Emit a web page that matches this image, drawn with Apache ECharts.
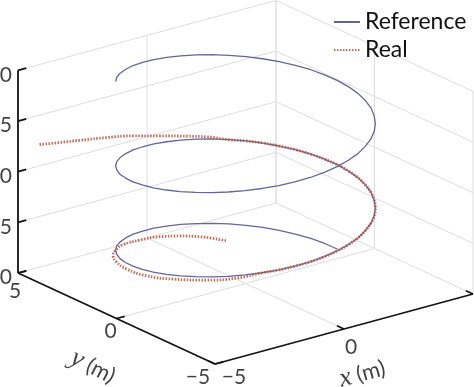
<!DOCTYPE html>
<html><head><meta charset="utf-8">
<style>html,body{margin:0;padding:0;background:#fff}#c{width:474px;height:387px}</style>
<script src="https://cdn.jsdelivr.net/npm/echarts@6/dist/echarts.min.js"></script>
</head><body><div id="c"></div>
<script>
// Data (metres)
const refX=[3.97,3.86,3.70,3.46,3.17,2.83,2.44,2,1.53,1.04,.52,0,-.52,-1.04,-1.53,-2,-2.44,-2.83,-3.17,-3.46,-3.70,-3.86,-3.97,-4,-3.97,-3.86,-3.70,-3.46,-3.17,-2.83,-2.44,-2,-1.53,-1.04,-.52,0,.52,1.04,1.53,2,2.44,2.83,3.17,3.46,3.70,3.86,3.97,
 4,3.97,3.86,3.70,3.46,3.17,2.83,2.44,2,1.53,1.04,.52,0,-.52,-1.04,-1.53,-2,-2.44,-2.83,-3.17,-3.46,-3.70,-3.86,-3.97,-4,-3.97,-3.86,-3.70,-3.46,-3.17,-2.83,-2.44,-2,-1.53,-1.04,-.52,0,.52,1.04,1.53,2,2.44,2.83,3.17,3.46,3.70,3.86,3.97,
 4,3.97,3.86,3.70,3.46,3.17,2.83,2.44,2,1.53,1.04,.52,0,-.52,-1.04,-1.53,-2,-2.44,-2.83,-3.17];
const refY=[.52,1.04,1.53,2,2.44,2.83,3.17,3.46,3.70,3.86,3.97,4,3.97,3.86,3.70,3.46,3.17,2.83,2.44,2,1.53,1.04,.52,0,-.52,-1.04,-1.53,-2,-2.44,-2.83,-3.17,-3.46,-3.70,-3.86,-3.97,-4,-3.97,-3.86,-3.70,-3.46,-3.17,-2.83,-2.44,-2,-1.53,-1.04,-.52,
 0,.52,1.04,1.53,2,2.44,2.83,3.17,3.46,3.70,3.86,3.97,4,3.97,3.86,3.70,3.46,3.17,2.83,2.44,2,1.53,1.04,.52,0,-.52,-1.04,-1.53,-2,-2.44,-2.83,-3.17,-3.46,-3.70,-3.86,-3.97,-4,-3.97,-3.86,-3.70,-3.46,-3.17,-2.83,-2.44,-2,-1.53,-1.04,-.52,
 0,.52,1.04,1.53,2,2.44,2.83,3.17,3.46,3.70,3.86,3.97,4,3.97,3.86,3.70,3.46,3.17,2.83,2.44];
const refZ=[.17,.35,.52,.69,.87,1.04,1.21,1.39,1.56,1.73,1.91,2.08,2.25,2.43,2.6,2.77,2.95,3.12,3.29,3.47,3.64,3.81,3.99,4.16,4.34,4.51,4.68,4.86,5.03,5.2,5.38,5.55,5.72,5.9,6.07,6.24,6.42,6.59,6.76,6.94,7.11,7.28,7.46,7.63,7.8,7.98,8.15,
 8.32,8.5,8.67,8.84,9.02,9.19,9.37,9.54,9.71,9.89,10.06,10.23,10.4,10.58,10.75,10.92,11.1,11.27,11.45,11.62,11.79,11.97,12.14,12.31,12.49,12.66,12.83,13.01,13.18,13.35,13.53,13.7,13.87,14.05,14.22,14.39,14.57,14.74,14.91,15.09,15.26,15.43,15.61,15.78,15.95,16.13,16.3,16.47,
 16.65,16.82,16.99,17.17,17.34,17.51,17.69,17.86,18.03,18.21,18.38,18.55,18.73,18.9,19.08,19.25,19.42,19.6,19.77,19.94];

const realX=[1.57,.93,.27,-.47,-1.35,-2.23,-2.95,-3.48,-3.94,-4.28,-4.36,-4.05,-3.49,-2.87,
 -2,-1.53,-1.04,-.52,0,.52,1.04,1.53,2,2.44,2.83,3.17,3.46,3.70,3.86,3.97,4,3.97,3.86,3.70,3.46,3.17,2.83,2.44,2,
 1.46,.85,.04,-.78,-1.66,-2.68,-3.45,-4.19];
const realY=[3.05,3.53,3.68,3.72,3.59,3.3,2.75,2.16,1.38,.42,-.7,-1.63,-2.62,-3.32,
 -3.46,-3.70,-3.86,-3.97,-4,-3.97,-3.86,-3.70,-3.46,-3.17,-2.83,-2.44,-2,-1.53,-1.04,-.52,0,.52,1.04,1.53,2,2.44,2.83,3.17,3.46,
 3.86,4.07,4.39,4.69,4.85,4.89,4.9,4.97];
const realZ=[.4,.8,1.2,1.6,2,2.4,2.8,3.2,3.6,4,4.4,4.7,5.1,5.5,
 5.55,5.72,5.9,6.07,6.24,6.42,6.59,6.76,6.94,7.11,7.28,7.46,7.63,7.8,7.98,8.15,8.32,8.5,8.67,8.84,9.02,9.19,9.37,9.54,9.71,
 10,10.3,10.6,10.9,11.2,11.6,11.9,12.15];

const xTicks=[-5,0,5];
const yTicks=[-5,0,5];
const zTicks=[0,5,10,15,20];
const xTickLabels=['−5','0'];
const yTickLabels=['−5','0','5'];
const zTickLabels=['0','5','10','15','20'];
const seriesNames=['Reference','Real'];

// Linear 3D → 2D projection of the box
const O=[245.5,283.5], EX=[25.8,-7], EY=[-19.7,-9.1], EZ=[0,-10.13];
const proj=(x,y,z)=>[O[0]+x*EX[0]+y*EY[0]+z*EZ[0], O[1]+x*EX[1]+y*EY[1]+z*EZ[1]];

const FONT='Lato';
const TXT='#111';
const series=[];
function seg(a,b,color,width,z){
  series.push({type:'line',silent:true,symbol:'none',z:z,animation:false,
    data:[proj(...a),proj(...b)],lineStyle:{color:color,width:width}});
}
const G='#dedee2';
const X0=-5,X1=5,Y0=-5,Y1=5,Z0=0,Z1=20;
zTicks.forEach(z=>{ seg([X0,Y1,z],[X1,Y1,z],G,1,1); seg([X1,Y1,z],[X1,Y0,z],G,1,1); });
xTicks.forEach(x=>seg([x,Y1,Z0],[x,Y1,Z1],G,1,1));
yTicks.forEach(y=>seg([X1,y,Z0],[X1,y,Z1],G,1,1));
xTicks.slice(1,2).forEach(x=>seg([x,Y0,Z0],[x,Y1,Z0],G,1,1));
yTicks.slice(1,2).forEach(y=>seg([X0,y,Z0],[X1,y,Z0],G,1,1));
const K='#141414', AW=1.8;
seg([X0,Y1,Z0],[X0,Y1,Z1],K,AW,5);
seg([X0,Y1,Z0],[X0,Y0,Z0],K,AW,5);
seg([X0,Y0,Z0],[X1,Y0,Z0],K,AW,5);
zTicks.forEach(z=>seg([X0,Y1,z],[X0+0.32,Y1,z],K,AW,5));
yTicks.forEach(y=>seg([X0,y,Z0],[X0+0.32,y,Z0],K,AW,5));
xTicks.forEach(x=>seg([x,Y0,Z0],[x,Y0+0.36,Z0],K,AW,5));

series.push({name:seriesNames[0],type:'line',symbol:'none',smooth:false,z:10,animation:false,silent:true,
  data:refX.map((v,i)=>proj(v,refY[i],refZ[i])),
  itemStyle:{color:'#62669b'},
  lineStyle:{color:'#62669b',width:1.3}});
series.push({name:seriesNames[1],type:'line',symbol:'none',smooth:true,z:11,animation:false,silent:true,
  data:realX.map((v,i)=>proj(v,realY[i],realZ[i])),
  itemStyle:{color:'#bf5339'},
  lineStyle:{color:'#bf5339',width:2.8,type:[1.5,1.5],opacity:.85}});

function lab(pt,text,off,extra){
  return {value:pt,label:Object.assign({show:true,position:'inside',formatter:text,offset:off,
    color:TXT,fontSize:21,fontFamily:FONT},extra||{})};
}
const labels=[];
zTicks.forEach((z,i)=>labels.push(lab(proj(X0,Y1,z),zTickLabels[i],[-6,4.5],{align:'right'})));
const yOff=[[-17,13],[-6,13],[-3,18]];
yTicks.forEach((y,i)=>labels.push(lab(proj(X0,y,Z0),yTickLabels[i],yOff[i])));
const xOff=[[19,13],[7,18]];
xTickLabels.forEach((t,i)=>labels.push(lab(proj(xTicks[i],Y0,Z0),t,xOff[i])));
const rich={i:{fontFamily:'"Liberation Serif"',fontStyle:'italic',fontSize:27,color:TXT},
            n:{fontFamily:FONT,fontSize:22,color:TXT}};
labels.push(lab(proj(0,Y0,Z0),'{i|x}{n| (m)}',[6,48],{rotate:15,rich:rich}));
labels.push(lab(proj(X0,0,Z0),'{i|y}{n| (m)}',[1,54],{rotate:-27,rich:rich}));
series.push({type:'scatter',symbolSize:0,silent:true,z:20,animation:false,data:labels});

const chart=echarts.init(document.getElementById('c'),null,{renderer:'canvas'});
chart.setOption({
  animation:false,backgroundColor:'#fff',
  grid:{left:0,right:0,top:0,bottom:0},
  xAxis:{type:'value',min:0,max:474,show:false},
  yAxis:{type:'value',min:0,max:387,inverse:true,show:false},
  legend:{data:seriesNames,orient:'vertical',left:333,top:10,itemWidth:26,itemHeight:24,itemGap:4,padding:0,
    itemStyle:{opacity:0},
    textStyle:{fontFamily:FONT,fontSize:23,lineHeight:24,color:TXT},selectedMode:false},
  series:series
});
</script></body></html>
